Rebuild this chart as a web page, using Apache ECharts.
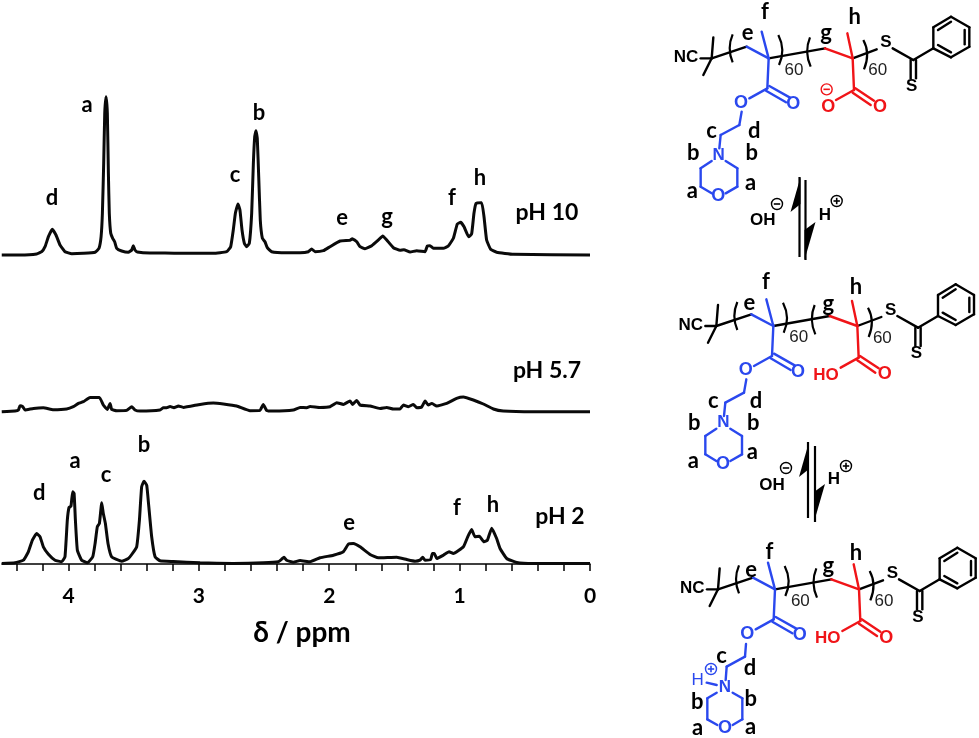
<!DOCTYPE html>
<html>
<head>
<meta charset="utf-8">
<style>html,body{margin:0;padding:0;background:#fff}#c{width:979px;height:738px}</style>
<script src="https://cdn.jsdelivr.net/npm/echarts@6/dist/echarts.min.js"></script>
</head>
<body>
<div id="c"></div>
<script>
// chemical shift (ppm) and intensity
const ph10 = [[4.512,0],[4.372,0],[4.244,1],[4.205,3.3],[4.18,8.3],[4.154,18.3],[4.124,25.7],[4.096,20],[4.065,10],[4.027,3.3],[3.975,1.3],[3.886,1.7],[3.796,2.7],[3.766,6.7],[3.75,18.3],[3.74,41.7],[3.73,91.7],[3.722,141.7],[3.712,158.3],[3.702,141.7],[3.694,81.7],[3.687,41.7],[3.676,21.7],[3.661,16.7],[3.646,13.3],[3.63,6.7],[3.592,4],[3.541,2.7],[3.515,5],[3.503,9.3],[3.49,5],[3.472,3],[3.375,2],[3.26,2],[3.119,1.7],[2.889,1.7],[2.787,3.3],[2.756,8.3],[2.736,25],[2.72,41.7],[2.7,51],[2.685,45],[2.669,25],[2.651,11.7],[2.633,8.3],[2.613,11.7],[2.595,41.7],[2.582,91.7],[2.572,118],[2.562,124.3],[2.552,116.7],[2.541,78.3],[2.529,35],[2.513,16.7],[2.493,13.3],[2.475,7.3],[2.442,3.3],[2.327,2.3],[2.224,2.3],[2.16,3.3],[2.135,6],[2.109,3.3],[2.045,4.3],[1.994,8.3],[1.917,14],[1.841,14.7],[1.823,16.3],[1.789,13.3],[1.764,8.3],[1.726,6.3],[1.674,9.3],[1.623,15],[1.59,19],[1.559,15],[1.508,7.3],[1.457,4.7],[1.427,5.3],[1.38,3],[1.329,4.3],[1.265,3.3],[1.248,9],[1.227,9.3],[1.202,6.7],[1.125,6.7],[1.087,9],[1.048,16.7],[1.018,31],[0.992,32.7],[0.966,28.3],[0.931,18.3],[0.908,21],[0.89,41.7],[0.874,51.7],[0.831,52.3],[0.813,38.3],[0.793,15],[0.762,5.7],[0.716,2.7],[0.588,0.7],[0,0]];
const ph57 = [[4.512,0],[4.41,0.7],[4.384,1.7],[4.372,6],[4.351,5],[4.333,1.7],[4.269,3.3],[4.193,4],[4.116,2],[4.014,2.7],[3.963,5],[3.924,8.3],[3.886,10],[3.835,14.3],[3.763,14.3],[3.733,6.7],[3.702,2.3],[3.681,8.3],[3.669,2.3],[3.63,1],[3.554,1.3],[3.515,5],[3.49,1.7],[3.451,0.7],[3.298,1.7],[3.272,4],[3.247,4],[3.221,5.3],[3.191,4],[3.157,5.7],[3.119,4.3],[2.991,7.3],[2.889,8.7],[2.812,7.7],[2.71,5.7],[2.608,1],[2.531,1.3],[2.506,7.3],[2.48,1.3],[2.429,0.7],[2.275,1.7],[2.224,4.3],[2.173,4],[2.147,5.3],[2.071,4.3],[1.994,5],[1.943,9],[1.892,7.3],[1.841,10.7],[1.82,7.3],[1.789,11.3],[1.764,6.7],[1.687,5.7],[1.61,3.3],[1.559,4.3],[1.508,2.7],[1.457,2.7],[1.431,6.7],[1.393,5],[1.355,7.3],[1.329,4],[1.291,4.7],[1.265,10.7],[1.24,6.7],[1.214,8.3],[1.176,5.7],[1.099,8.3],[1.023,13.3],[0.971,14.7],[0.895,11.7],[0.818,7.7],[0.741,2.7],[0.665,0.7],[0.435,0],[0,0]];
const ph2 = [[4.512,0],[4.41,0.7],[4.346,3.3],[4.308,11.7],[4.277,23.3],[4.244,30],[4.218,26.7],[4.193,16.7],[4.154,9.3],[4.103,3.3],[4.052,1.7],[4.027,6.7],[4.009,43.3],[3.996,56],[3.981,57.3],[3.968,71.7],[3.957,70],[3.947,43.3],[3.932,13.3],[3.899,3.3],[3.855,0.7],[3.814,6.7],[3.796,20],[3.779,36.7],[3.763,40],[3.745,60.7],[3.733,50],[3.717,40],[3.697,20],[3.669,6.7],[3.592,2.3],[3.541,5],[3.515,9],[3.477,16.7],[3.456,43.3],[3.439,76.7],[3.421,82.3],[3.4,78.3],[3.385,58.3],[3.362,26.7],[3.336,6.7],[3.298,2.7],[3.196,2],[2.991,0.7],[2.736,0],[2.506,0.7],[2.391,1.7],[2.365,4.3],[2.347,6.3],[2.327,3.3],[2.276,1.3],[2.224,3],[2.147,1.7],[2.071,5.7],[1.968,8.3],[1.892,11.7],[1.853,19.3],[1.815,20],[1.764,16.7],[1.687,9],[1.623,5.7],[1.483,6.3],[1.406,4],[1.342,2.3],[1.304,3.3],[1.283,6.3],[1.265,3.3],[1.222,4],[1.209,10],[1.194,10],[1.176,5],[1.125,8.3],[1.081,11.7],[1.048,10],[0.971,16.7],[0.938,26.7],[0.908,34],[0.882,26.7],[0.849,27.3],[0.813,21.7],[0.787,23.3],[0.754,35.3],[0.716,25],[0.69,15],[0.639,5],[0.562,1],[0.435,0],[0,0]];
const baseline10 = 309, baseline57 = 152.3, baseline2 = 0.5;
const tickLabels = [0, 1, 2, 3, 4];
const tickValues = [0,0.2,0.4,0.6,0.8,1,1.2,1.4,1.6,1.8,2,2.2,2.4,2.6,2.8,3,3.2,3.4,3.6,3.8,4,4.2,4.4];
// peak and spectrum labels: text, ppm, height on the value axis
const peakLabels = [["d",4.126,366],["a",3.857,459],["c",2.722,389],["b",2.538,451],["e",1.902,346],["g",1.557,347],["f",1.058,366],["h",0.844,386],
                    ["d",4.225,71],["a",3.949,103],["c",3.712,89],["b",3.42,119],["e",1.847,41],["f",1.02,56],["h",0.744,59]];
const phLabels = [["pH 10",0.330,351],["pH 5.7",0.330,193],["pH 2",0.230,47]];

const BLUE = '#2a48ee', RED = '#f01418', BLACK = '#000';
const FONT = 'Lato, "Open Sans", sans-serif';
const elems = [];
function line(ox, oy, c, p, w) {
  elems.push({type:'line', silent:true, z:5, shape:{x1:ox+p[0]/3,y1:oy+p[1]/3,x2:ox+p[2]/3,y2:oy+p[3]/3},
    style:{stroke:c,lineWidth:w||2.4,lineCap:'round'}});
}
function lines(ox, oy, c, list) { list.forEach(p => line(ox, oy, c, p)); }
function text(ox, oy, t, x, y, size, c, weight, fam) {
  elems.push({type:'text', silent:true, z:6, style:{x:ox+x/3,y:oy+y/3,text:t,fill:c,fontSize:size,fontWeight:weight||'bold',
    fontFamily:fam||FONT,align:'center',verticalAlign:'middle'}});
}
function paren(ox, oy, p) {
  elems.push({type:'bezierCurve', silent:true, z:5, shape:{x1:ox+p[0]/3,y1:oy+p[1]/3,x2:ox+p[4]/3,y2:oy+p[5]/3,cpx1:ox+p[2]/3,cpy1:oy+p[3]/3},
    style:{stroke:BLACK,lineWidth:2.2,fill:'none'}});
}
function charge(ox, oy, x, y, c, plus) {
  const cx=ox+x/3, cy=oy+y/3;
  elems.push({type:'circle', silent:true, z:5, shape:{cx,cy,r:5.5}, style:{stroke:c,lineWidth:1.4,fill:'none'}});
  elems.push({type:'line', silent:true, z:5, shape:{x1:cx-3.2,y1:cy,x2:cx+3.2,y2:cy}, style:{stroke:c,lineWidth:1.6}});
  if (plus) elems.push({type:'line', silent:true, z:5, shape:{x1:cx,y1:cy-3.2,x2:cx,y2:cy+3.2}, style:{stroke:c,lineWidth:1.6}});
}
const ARIAL = '"Liberation Sans", Arial, sans-serif';
function backbone(ox, oy, acid) {
  lines(ox,oy,BLACK,[[122,175,155,175],[155,175,130,225],[160,112,155,175],[155,175,260,140],[326,175,495,145],[578,175,650,148],[698,145,760,180],[760,180,820,145],[752,180,752,235],[768,180,768,235],
    [820,145,820,82],[820,82,873,50],[873,50,928,82],[928,82,928,140],[928,140,873,172],[873,172,820,145],[834,90,873,65],[914,90,914,133],[873,157,834,135]]);
  lines(ox,oy,BLUE,[[260,140,326,175],[305,95,326,175],[326,175,322,265],[328,258,390,293],[318,272,378,307],[322,265,268,295]]);
  lines(ox,oy,RED,[[495,145,578,175],[562,100,578,175],[578,175,582,270],[586,265,642,302],[578,278,632,315],[582,270,528,300]]);
  paren(ox,oy,[218,103,200,145,218,187]);paren(ox,oy,[355,105,378,150,357,195]);paren(ox,oy,[450,112,432,155,452,200]);paren(ox,oy,[610,120,632,160,612,208]);
  text(ox,oy,'NC',78,172,17,BLACK,'bold',ARIAL);
  text(ox,oy,'S',678,128,17,BLACK,'bold',ARIAL);
  text(ox,oy,'S',755,258,17,BLACK,'bold',ARIAL);
  text(ox,oy,'60',402,210,17,'#222','normal',ARIAL);
  text(ox,oy,'60',653,212,17,'#222','normal',ARIAL);
  text(ox,oy,'O',243,308,18,BLUE,'bold',ARIAL);
  text(ox,oy,'O',400,312,18,BLUE,'bold',ARIAL);
  text(ox,oy,'O',660,320,18,RED,'bold',ARIAL);
  if (acid) { text(ox,oy,'HO',484,322,17,RED,'bold',ARIAL); }
  else { text(ox,oy,'O',505,320,18,RED,'bold',ARIAL); charge(ox,oy,500,268,RED,false); }
}
function morpholine(ox, oy) {
  lines(ox,oy,BLUE,[[245,335,238,375],[238,375,182,405],[182,405,178,445],[155,483,122,505],[122,505,122,560],[122,560,155,580],[197,580,232,560],[232,560,232,505],[232,505,197,483]]);
  text(ox,oy,'N',176,465,17,BLUE,'bold',ARIAL);
  text(ox,oy,'O',175,588,18,BLUE,'bold',ARIAL);
}
function letters(ox, oy, list) { list.forEach(l => text(ox,oy,l[0],l[1],l[2],22,'#000')); }
// upper structure
let ox = 660, oy = 0;
backbone(ox, oy, false); morpholine(ox, oy);
letters(ox,oy,[['e',263,98],['f',315,35],['g',498,100],['h',584,50],['c',155,393],['d',283,393],['b',100,460],['b',275,460],['a',97,573],['a',272,548]]);
// middle structure
ox = 660+14/3; oy = 250+53/3;
backbone(ox, oy, true); morpholine(ox, oy);
letters(660,250,[['e',268,158],['f',318,97],['g',505,162],['h',588,112],['c',160,453],['d',288,453],['b',103,520],['b',280,520],['a',100,633],['a',277,607]]);
// lower structure
ox = 660+19/3; oy = 490+123/3;
backbone(ox, oy, true);
lines(660,490,BLUE,[[258,462,255,500],[255,500,200,530],[200,530,197,570],[140,578,170,585],[170,608,142,625],[142,625,142,688],[142,688,172,705],[218,705,247,688],[247,688,247,625],[247,625,218,608]]);
text(660,490,'N',195,592,17,BLUE,'bold',ARIAL);
text(660,490,'O',195,715,18,BLUE,'bold',ARIAL);
text(660,490,'H',113,572,17,BLUE,'normal',ARIAL);
charge(660,490,153,537,BLUE,true);
letters(660,490,[['e',273,240],['f',328,187],['g',505,227],['h',588,190],['c',185,497],['d',270,533],['b',112,637],['b',272,628],['a',113,715],['a',272,710]]);
// equilibrium arrows
function arrows(xl, xr, topL, botL, topR, botR) {
  elems.push({type:'line',silent:true,z:5,shape:{x1:xl,y1:topL,x2:xl,y2:botL},style:{stroke:BLACK,lineWidth:2.2}});
  elems.push({type:'line',silent:true,z:5,shape:{x1:xr,y1:topR,x2:xr,y2:botR},style:{stroke:BLACK,lineWidth:2.2}});
  elems.push({type:'polygon',silent:true,z:5,shape:{points:[[xl+1,topL],[xl-9,topL+35],[xl+1,topL+27]]},style:{fill:BLACK}});
  elems.push({type:'polygon',silent:true,z:5,shape:{points:[[xr-1,botR],[xr+10,botR-38],[xr-1,botR-30]]},style:{fill:BLACK}});
}
arrows(799.5, 805.5, 177, 257, 180, 260);
arrows(808, 815, 442, 518, 446, 522);
text(0,0,'OH',762.7*3,220*3,17,BLACK,'bold',ARIAL); charge(0,0,777*3,204*3,BLACK,false);
text(0,0,'H',825*3,215*3,17,BLACK,'bold',ARIAL);  charge(0,0,836.7*3,201*3,BLACK,true);
text(0,0,'OH',772*3,485*3,17,BLACK,'bold',ARIAL); charge(0,0,786*3,468*3,BLACK,false);
text(0,0,'H',834*3,479*3,17,BLACK,'bold',ARIAL);  charge(0,0,846*3,466*3,BLACK,true);

function spec(data, base) {
  return {type:'line', data:data.map(d => [d[0], d[1]+base]), showSymbol:false, symbol:'none', smooth:0.12,
    lineStyle:{color:'#0a0a0a',width:3,join:'round'}, z:3, animation:false, silent:true};
}
function labelSeries(rows, size) {
  return {type:'scatter', symbolSize:1, itemStyle:{color:'transparent',opacity:1}, silent:true, animation:false, z:4,
    data:rows.map(r => ({value:[r[1],r[2]], name:r[0]})),
    label:{show:true, position:'inside', formatter:p => p.name, fontFamily:FONT, fontWeight:'bold', fontSize:size, color:'#000', opacity:1}};
}
const chart = echarts.init(document.getElementById('c'), null, {renderer:'canvas'});
chart.setOption({
  animation:false, backgroundColor:'#fff',
  grid:{left:2, right:389, top:0, bottom:174},
  xAxis:{type:'value', inverse:true, min:0, max:4.51, axisLine:{show:true,onZero:false,lineStyle:{color:'#000',width:1.5}},
    axisTick:{show:true,customValues:tickValues,length:7,lineStyle:{color:'#000',width:1.5}},
    axisLabel:{show:true,customValues:tickLabels,fontFamily:FONT,fontWeight:'bold',fontSize:21,color:'#000',margin:22},
    splitLine:{show:false},
    name:'δ / ppm', nameLocation:'middle', nameGap:55, nameTextStyle:{fontFamily:FONT,fontWeight:'bold',fontSize:28,color:'#000',padding:[0,0,0,12]}},
  yAxis:{type:'value', min:0, max:564, show:false},
  series:[spec(ph10,baseline10), spec(ph57,baseline57), spec(ph2,baseline2), labelSeries(peakLabels,22), labelSeries(phLabels,23)],
  graphic:{elements:elems}
});
</script>
</body>
</html>
